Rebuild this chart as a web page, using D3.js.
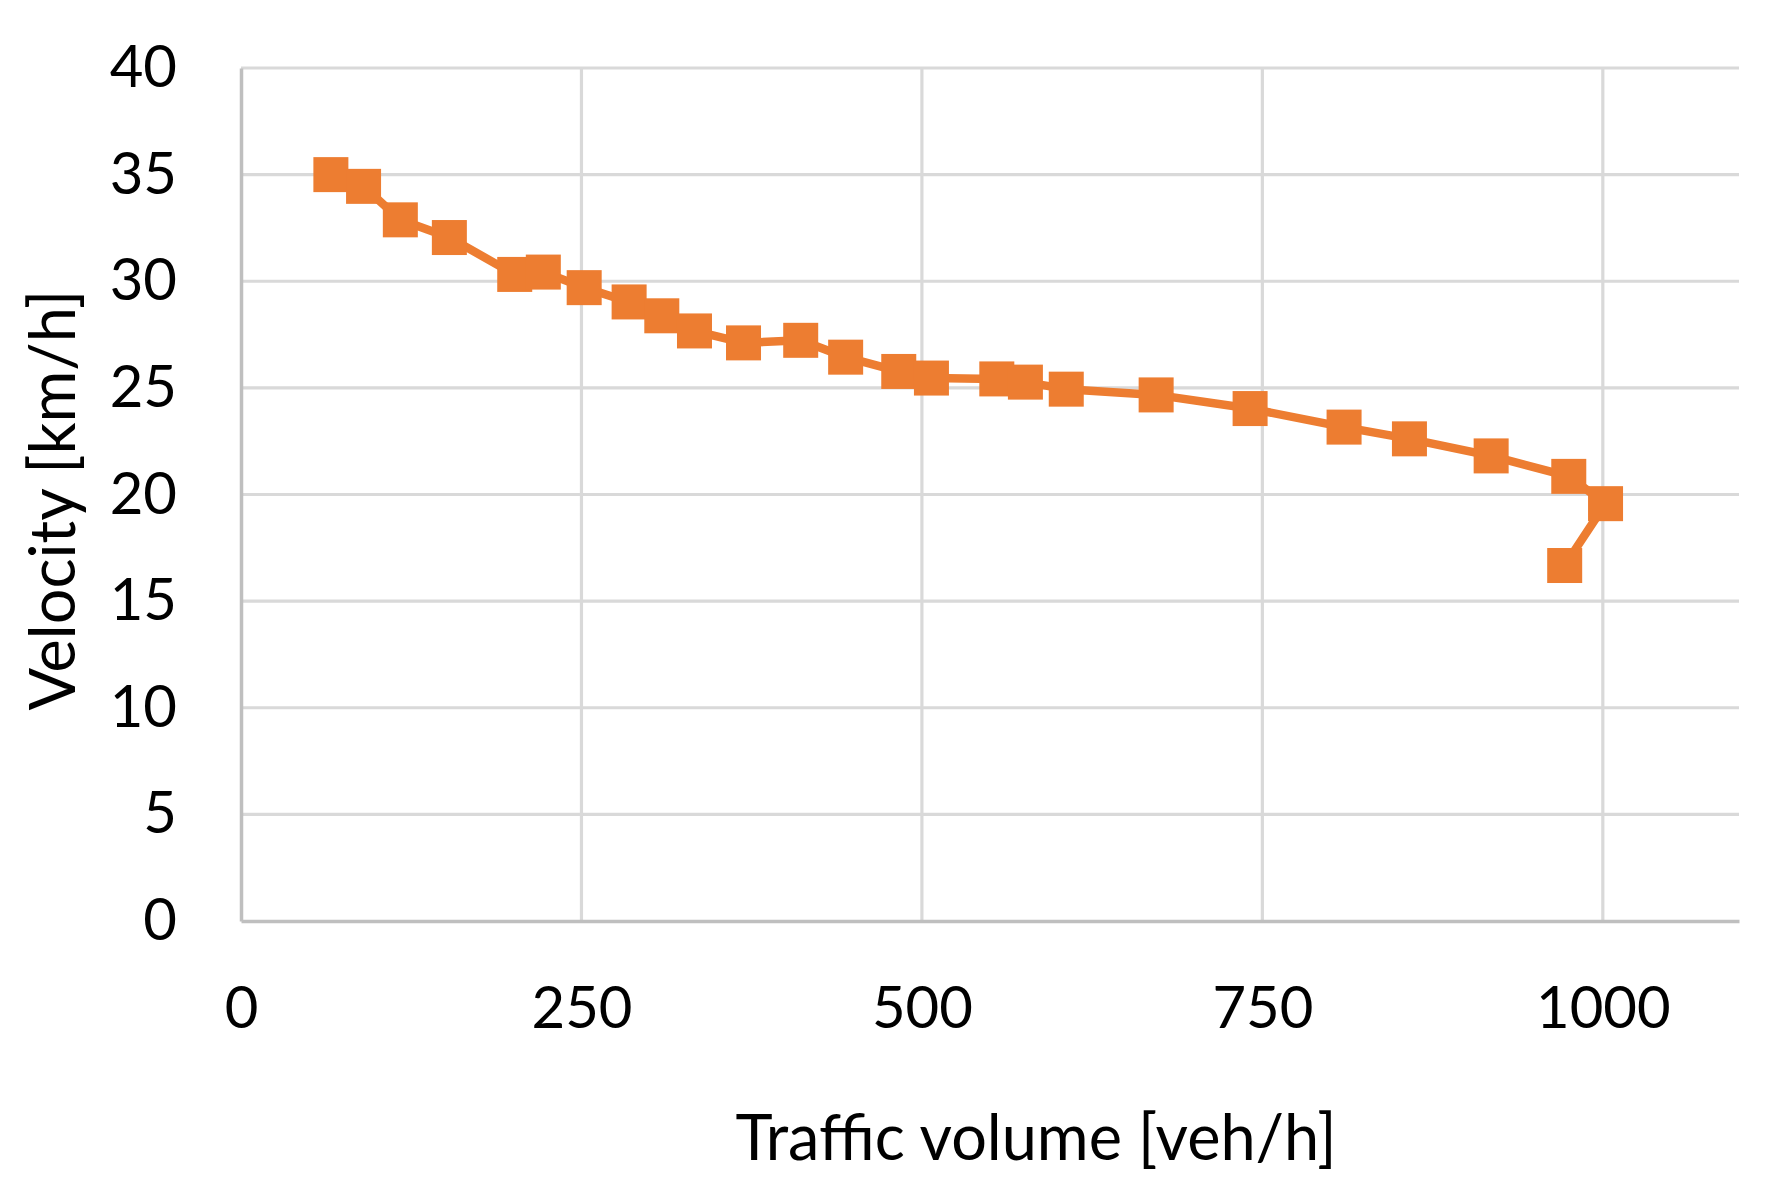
<!DOCTYPE html>
<html lang="en">
<head>
    <meta charset="UTF-8">
    <title>Velocity vs Traffic volume</title>
    <script src="https://d3js.org/d3.v7.min.js"></script>
    <style>
        body { margin: 0; background: #fff; }
        text { font-family: Lato, "Open Sans", sans-serif; fill: #000; }
    </style>
</head>
<body>
    <div id="chart"></div>

    <script>
        // traffic volume [veh/h] and velocity [km/h]
        var volume = [66, 90, 117, 153, 201, 222, 252, 285, 309, 333, 369, 411, 444,
                      483, 507, 555, 576, 606, 672, 741, 810, 858, 918, 975, 1002, 972];
        var velocity = [35.0, 34.45, 32.88, 32.05, 30.32, 30.43, 29.70, 29.03, 28.38, 27.67,
                        27.11, 27.23, 26.44, 25.77, 25.46, 25.42, 25.27, 24.94, 24.67, 24.03,
                        23.16, 22.61, 21.81, 20.85, 19.57, 16.67];

        var xTicks = [0, 250, 500, 750, 1000];
        var yTicks = [0, 5, 10, 15, 20, 25, 30, 35, 40];

        var dataset = volume.map(function(v, i) {
            return { x: v, y: velocity[i] };
        });

        var w = 1782;
        var h = 1194;
        var margin = { top: 68, right: 43, bottom: 273, left: 241 };

        var svg = d3.select("#chart").append("svg")
            .attr("width", w)
            .attr("height", h);

        var xScale = d3.scaleLinear()
            .domain([0, 1100])
            .range([margin.left, w - margin.right]);

        var yScale = d3.scaleLinear()
            .domain([0, 40])
            .range([h - margin.bottom, margin.top]);

        // gridlines
        svg.append("g")
            .selectAll("line")
            .data(yTicks.slice(1))
            .enter()
            .append("line")
            .attr("x1", xScale(0))
            .attr("x2", xScale(1100))
            .attr("y1", function(d) { return yScale(d); })
            .attr("y2", function(d) { return yScale(d); })
            .attr("stroke", "#d9d9d9")
            .attr("stroke-width", 3.2);

        svg.append("g")
            .selectAll("line")
            .data(xTicks.slice(1))
            .enter()
            .append("line")
            .attr("x1", function(d) { return xScale(d); })
            .attr("x2", function(d) { return xScale(d); })
            .attr("y1", yScale(0))
            .attr("y2", yScale(40))
            .attr("stroke", "#d9d9d9")
            .attr("stroke-width", 3.2);

        // axes
        var xAxis = d3.axisBottom(xScale)
            .tickValues(xTicks)
            .tickFormat(d3.format("d"))
            .tickSize(0)
            .tickPadding(87);

        var yAxis = d3.axisLeft(yScale)
            .tickValues(yTicks)
            .tickSize(0)
            .tickPadding(64);

        var gx = svg.append("g")
            .attr("transform", "translate(0," + yScale(0) + ")")
            .call(xAxis);

        var gy = svg.append("g")
            .attr("transform", "translate(" + xScale(0) + ",0)")
            .call(yAxis);

        [gx, gy].forEach(function(g) {
            g.select(".domain")
                .attr("stroke", "#bfbfbf")
                .attr("stroke-width", 3.5);
            g.selectAll("text")
                .style("font-family", "Lato, sans-serif")
                .style("font-size", "58px")
                .attr("fill", "#000");
        });
        gx.selectAll("text").attr("dy", "0.35em");

        // series line + square markers
        var line = d3.line()
            .x(function(d) { return xScale(d.x); })
            .y(function(d) { return yScale(d.y); });

        svg.append("path")
            .datum(dataset)
            .attr("d", line)
            .attr("fill", "none")
            .attr("stroke", "#ed7d31")
            .attr("stroke-width", 8.5)
            .attr("stroke-linejoin", "round");

        var size = 35;
        svg.append("g")
            .selectAll("rect")
            .data(dataset)
            .enter()
            .append("rect")
            .attr("x", function(d) { return xScale(d.x) - size / 2; })
            .attr("y", function(d) { return yScale(d.y) - size / 2; })
            .attr("width", size)
            .attr("height", size)
            .attr("fill", "#ed7d31");

        // axis titles
        svg.append("text")
            .attr("x", 1036)
            .attr("y", 1160)
            .attr("text-anchor", "middle")
            .style("font-size", "63px")
            .text("Traffic volume [veh/h]");

        svg.append("text")
            .attr("transform", "translate(75,500) rotate(-90)")
            .attr("text-anchor", "middle")
            .style("font-size", "63px")
            .text("Velocity [km/h]");
    </script>
</body>
</html>
